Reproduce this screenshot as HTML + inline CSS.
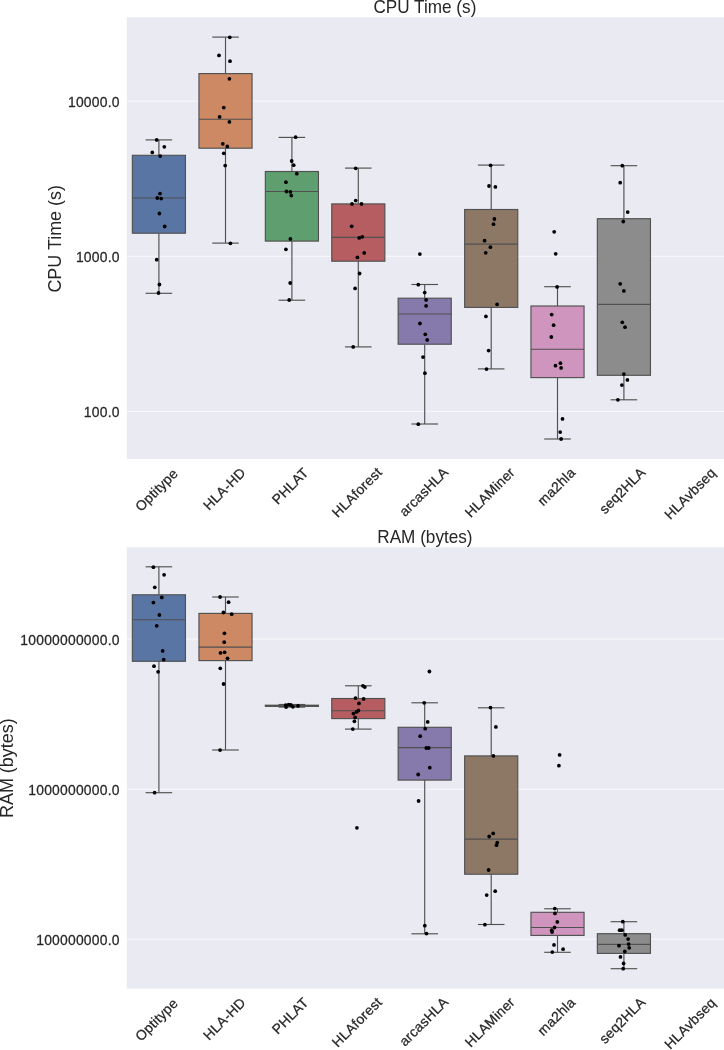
<!DOCTYPE html>
<html lang="en">
<head>
<meta charset="utf-8">
<title>CPU Time and RAM boxplots</title>
<style>
html,body{margin:0;padding:0;background:#fff;}
body{width:724px;height:1050px;overflow:hidden;}
svg{display:block;}
text{font-family:"Liberation Sans",Arial,Helvetica,sans-serif;fill:#262626;}
.tk{font-size:13.9px;letter-spacing:.22px;stroke:#262626;stroke-width:.25px;}
.lb{font-size:17.16px;}
.yl{font-size:17.95px;}
.g line{stroke:#fff;stroke-width:1;stroke-opacity:.72;}
.b line,.b rect{stroke:#515151;stroke-width:1.15;}
.d ellipse{fill:#000;}
</style>
</head>
<body>
<svg width="724" height="1050" viewBox="0 0 724 1050">
<rect x="0" y="0" width="724" height="1050" fill="#fff"/>
<rect x="126.8" y="17.25" width="599.2" height="441.75" fill="#eaeaf2"/>
<g class="g">
<line x1="126.8" y1="101.2" x2="726" y2="101.2"/>
<line x1="126.8" y1="256.3" x2="726" y2="256.3"/>
<line x1="126.8" y1="411.4" x2="726" y2="411.4"/>
</g>
<g class="b">
<line x1="158.9" y1="139.9" x2="158.9" y2="155.3"/><line x1="158.9" y1="233.2" x2="158.9" y2="293.3"/><line x1="145.6" y1="139.9" x2="172.2" y2="139.9"/><line x1="145.6" y1="293.3" x2="172.2" y2="293.3"/><rect x="132.35" y="155.3" width="53.1" height="77.9" fill="#5875a4"/><line x1="132.35" y1="198.0" x2="185.45" y2="198.0"/>
<line x1="225.5" y1="37.1" x2="225.5" y2="73.6"/><line x1="225.5" y1="148.2" x2="225.5" y2="243.1"/><line x1="212.2" y1="37.1" x2="238.8" y2="37.1"/><line x1="212.2" y1="243.1" x2="238.8" y2="243.1"/><rect x="198.95" y="73.6" width="53.1" height="74.6" fill="#cc8963"/><line x1="198.95" y1="119.2" x2="252.05" y2="119.2"/>
<line x1="291.9" y1="137.4" x2="291.9" y2="171.5"/><line x1="291.9" y1="241.1" x2="291.9" y2="300.2"/><line x1="278.6" y1="137.4" x2="305.2" y2="137.4"/><line x1="278.6" y1="300.2" x2="305.2" y2="300.2"/><rect x="265.35" y="171.5" width="53.1" height="69.6" fill="#5f9e6e"/><line x1="265.35" y1="191.5" x2="318.45" y2="191.5"/>
<line x1="358.3" y1="168.1" x2="358.3" y2="203.9"/><line x1="358.3" y1="261.2" x2="358.3" y2="346.9"/><line x1="345.0" y1="168.1" x2="371.6" y2="168.1"/><line x1="345.0" y1="346.9" x2="371.6" y2="346.9"/><rect x="331.75" y="203.9" width="53.1" height="57.3" fill="#b55d60"/><line x1="331.75" y1="237.3" x2="384.85" y2="237.3"/>
<line x1="424.7" y1="284.5" x2="424.7" y2="298.2"/><line x1="424.7" y1="344.2" x2="424.7" y2="424.0"/><line x1="411.4" y1="284.5" x2="438.0" y2="284.5"/><line x1="411.4" y1="424.0" x2="438.0" y2="424.0"/><rect x="398.15" y="298.2" width="53.1" height="46.0" fill="#857aab"/><line x1="398.15" y1="314.0" x2="451.25" y2="314.0"/>
<line x1="491.2" y1="165.1" x2="491.2" y2="209.5"/><line x1="491.2" y1="307.4" x2="491.2" y2="368.9"/><line x1="477.9" y1="165.1" x2="504.5" y2="165.1"/><line x1="477.9" y1="368.9" x2="504.5" y2="368.9"/><rect x="464.65" y="209.5" width="53.1" height="97.9" fill="#8d7866"/><line x1="464.65" y1="244.1" x2="517.75" y2="244.1"/>
<line x1="557.5" y1="286.7" x2="557.5" y2="306.0"/><line x1="557.5" y1="377.6" x2="557.5" y2="439.0"/><line x1="544.2" y1="286.7" x2="570.8" y2="286.7"/><line x1="544.2" y1="439.0" x2="570.8" y2="439.0"/><rect x="530.95" y="306.0" width="53.1" height="71.6" fill="#d095bf"/><line x1="530.95" y1="349.2" x2="584.05" y2="349.2"/>
<line x1="623.9" y1="165.7" x2="623.9" y2="218.7"/><line x1="623.9" y1="375.3" x2="623.9" y2="399.8"/><line x1="610.6" y1="165.7" x2="637.2" y2="165.7"/><line x1="610.6" y1="399.8" x2="637.2" y2="399.8"/><rect x="597.35" y="218.7" width="53.1" height="156.6" fill="#8c8c8c"/><line x1="597.35" y1="304.4" x2="650.45" y2="304.4"/>
</g>
<g class="d">
<ellipse cx="156.7" cy="139.9" rx="1.88" ry="1.88"/><ellipse cx="164.3" cy="146.8" rx="1.88" ry="1.88"/><ellipse cx="152.3" cy="152.4" rx="1.88" ry="1.88"/><ellipse cx="160.2" cy="156.1" rx="1.88" ry="1.88"/><ellipse cx="160" cy="193.6" rx="1.88" ry="1.88"/><ellipse cx="157.3" cy="198" rx="1.88" ry="1.88"/><ellipse cx="161.2" cy="198.6" rx="1.88" ry="1.88"/><ellipse cx="159.4" cy="213.5" rx="1.88" ry="1.88"/><ellipse cx="164.7" cy="226.5" rx="1.88" ry="1.88"/><ellipse cx="156.7" cy="259.7" rx="1.88" ry="1.88"/><ellipse cx="159.4" cy="284.5" rx="1.88" ry="1.88"/><ellipse cx="158.5" cy="293.0" rx="1.88" ry="1.88"/><ellipse cx="229.8" cy="37.3" rx="1.88" ry="1.88"/><ellipse cx="219.0" cy="55.4" rx="1.88" ry="1.88"/><ellipse cx="230" cy="61.2" rx="1.88" ry="1.88"/><ellipse cx="229.4" cy="78.8" rx="1.88" ry="1.88"/><ellipse cx="223.8" cy="107.6" rx="1.88" ry="1.88"/><ellipse cx="219.6" cy="116.9" rx="1.88" ry="1.88"/><ellipse cx="229.4" cy="121.9" rx="1.88" ry="1.88"/><ellipse cx="222.8" cy="143.8" rx="1.88" ry="1.88"/><ellipse cx="227.3" cy="146.5" rx="1.88" ry="1.88"/><ellipse cx="223.8" cy="153.3" rx="1.88" ry="1.88"/><ellipse cx="225.2" cy="165.6" rx="1.88" ry="1.88"/><ellipse cx="230.4" cy="243.3" rx="1.88" ry="1.88"/><ellipse cx="295.6" cy="137.2" rx="1.88" ry="1.88"/><ellipse cx="291.7" cy="161.0" rx="1.88" ry="1.88"/><ellipse cx="293.7" cy="165.2" rx="1.88" ry="1.88"/><ellipse cx="296.8" cy="173.7" rx="1.88" ry="1.88"/><ellipse cx="285.9" cy="182.2" rx="1.88" ry="1.88"/><ellipse cx="286.5" cy="191.5" rx="1.88" ry="1.88"/><ellipse cx="290.4" cy="191.9" rx="1.88" ry="1.88"/><ellipse cx="291.3" cy="195.6" rx="1.88" ry="1.88"/><ellipse cx="290.4" cy="238.9" rx="1.88" ry="1.88"/><ellipse cx="285.9" cy="249.3" rx="1.88" ry="1.88"/><ellipse cx="290.2" cy="283.0" rx="1.88" ry="1.88"/><ellipse cx="289.2" cy="300.0" rx="1.88" ry="1.88"/><ellipse cx="355.7" cy="168.3" rx="1.88" ry="1.88"/><ellipse cx="355.7" cy="200.6" rx="1.88" ry="1.88"/><ellipse cx="352" cy="203.9" rx="1.88" ry="1.88"/><ellipse cx="361.5" cy="203.9" rx="1.88" ry="1.88"/><ellipse cx="351.7" cy="226.3" rx="1.88" ry="1.88"/><ellipse cx="359.2" cy="237.9" rx="1.88" ry="1.88"/><ellipse cx="362.3" cy="236.8" rx="1.88" ry="1.88"/><ellipse cx="364.2" cy="252.9" rx="1.88" ry="1.88"/><ellipse cx="357.4" cy="257.4" rx="1.88" ry="1.88"/><ellipse cx="359.6" cy="273.5" rx="1.88" ry="1.88"/><ellipse cx="355.1" cy="288.4" rx="1.88" ry="1.88"/><ellipse cx="353.2" cy="346.9" rx="1.88" ry="1.88"/><ellipse cx="419.9" cy="254.1" rx="1.88" ry="1.88"/><ellipse cx="418.3" cy="284.7" rx="1.88" ry="1.88"/><ellipse cx="424.7" cy="292.6" rx="1.88" ry="1.88"/><ellipse cx="426.1" cy="299.9" rx="1.88" ry="1.88"/><ellipse cx="426.1" cy="305.9" rx="1.88" ry="1.88"/><ellipse cx="419.9" cy="323.5" rx="1.88" ry="1.88"/><ellipse cx="425.3" cy="334.3" rx="1.88" ry="1.88"/><ellipse cx="427.2" cy="339.9" rx="1.88" ry="1.88"/><ellipse cx="423.0" cy="357.1" rx="1.88" ry="1.88"/><ellipse cx="424.9" cy="373.2" rx="1.88" ry="1.88"/><ellipse cx="418.3" cy="424.2" rx="1.88" ry="1.88"/><ellipse cx="490.6" cy="165.3" rx="1.88" ry="1.88"/><ellipse cx="489.0" cy="186.0" rx="1.88" ry="1.88"/><ellipse cx="495.4" cy="186.9" rx="1.88" ry="1.88"/><ellipse cx="494.4" cy="219.0" rx="1.88" ry="1.88"/><ellipse cx="493.5" cy="224.2" rx="1.88" ry="1.88"/><ellipse cx="484.6" cy="240.7" rx="1.88" ry="1.88"/><ellipse cx="490.4" cy="247.2" rx="1.88" ry="1.88"/><ellipse cx="485.7" cy="252.8" rx="1.88" ry="1.88"/><ellipse cx="497.1" cy="304.3" rx="1.88" ry="1.88"/><ellipse cx="485.9" cy="316.4" rx="1.88" ry="1.88"/><ellipse cx="488.6" cy="350.6" rx="1.88" ry="1.88"/><ellipse cx="486.5" cy="369.1" rx="1.88" ry="1.88"/><ellipse cx="554.2" cy="231.8" rx="1.88" ry="1.88"/><ellipse cx="555.7" cy="253.8" rx="1.88" ry="1.88"/><ellipse cx="557.1" cy="286.9" rx="1.88" ry="1.88"/><ellipse cx="551.7" cy="314.6" rx="1.88" ry="1.88"/><ellipse cx="553.6" cy="325.2" rx="1.88" ry="1.88"/><ellipse cx="551.3" cy="337.0" rx="1.88" ry="1.88"/><ellipse cx="560.4" cy="363.2" rx="1.88" ry="1.88"/><ellipse cx="555.5" cy="365.7" rx="1.88" ry="1.88"/><ellipse cx="561.1" cy="367.9" rx="1.88" ry="1.88"/><ellipse cx="562.5" cy="418.9" rx="1.88" ry="1.88"/><ellipse cx="560.2" cy="432.1" rx="1.88" ry="1.88"/><ellipse cx="561.1" cy="439.0" rx="1.88" ry="1.88"/><ellipse cx="622.3" cy="165.7" rx="1.88" ry="1.88"/><ellipse cx="620.2" cy="182.7" rx="1.88" ry="1.88"/><ellipse cx="627.7" cy="212.1" rx="1.88" ry="1.88"/><ellipse cx="623.3" cy="221.5" rx="1.88" ry="1.88"/><ellipse cx="620.2" cy="283.8" rx="1.88" ry="1.88"/><ellipse cx="623.9" cy="290.9" rx="1.88" ry="1.88"/><ellipse cx="622.3" cy="322.3" rx="1.88" ry="1.88"/><ellipse cx="625.0" cy="327.2" rx="1.88" ry="1.88"/><ellipse cx="623.9" cy="374.1" rx="1.88" ry="1.88"/><ellipse cx="627.4" cy="379.9" rx="1.88" ry="1.88"/><ellipse cx="621.9" cy="385.1" rx="1.88" ry="1.88"/><ellipse cx="617.9" cy="399.8" rx="1.88" ry="1.88"/>
</g>
<text class="tk" transform="translate(119.7,106.8) scale(1,1.08)" text-anchor="end">10000.0</text>
<text class="tk" transform="translate(119.7,261.9) scale(1,1.08)" text-anchor="end">1000.0</text>
<text class="tk" transform="translate(119.7,417.0) scale(1,1.08)" text-anchor="end">100.0</text>
<text class="lb" transform="translate(424.9,12.75) scale(1,1.04)" text-anchor="middle">CPU Time (s)</text>
<text class="yl" transform="translate(60.9,238.82) rotate(-90) scale(1,.985)" text-anchor="middle">CPU Time (s)</text>
<text class="tk" transform="translate(156.4,489.8) rotate(-45)" text-anchor="middle" y="5">Optitype</text>
<text class="tk" transform="translate(224.2,488.8) rotate(-45)" text-anchor="middle" y="5">HLA-HD</text>
<text class="tk" transform="translate(290.0,485.8) rotate(-45)" text-anchor="middle" y="5">PHLAT</text>
<text class="tk" transform="translate(356.8,492.2) rotate(-45)" text-anchor="middle" y="5">HLAforest</text>
<text class="tk" transform="translate(423.6,491.6) rotate(-45)" text-anchor="middle" y="5">arcasHLA</text>
<text class="tk" transform="translate(489.7,492.2) rotate(-45)" text-anchor="middle" y="5">HLAMiner</text>
<text class="tk" transform="translate(556.2,486.5) rotate(-45)" text-anchor="middle" y="5" dx="0 -1.1">rna2hla</text>
<text class="tk" transform="translate(622.1,490.4) rotate(-45)" text-anchor="middle" y="5">seq2HLA</text>
<text class="tk" transform="translate(690.0,493.4) rotate(-45)" text-anchor="middle" y="5">HLAvbseq</text>
<rect x="126.8" y="547.25" width="599.2" height="441.35" fill="#eaeaf2"/>
<g class="g">
<line x1="126.8" y1="639.1" x2="726" y2="639.1"/>
<line x1="126.8" y1="789.3" x2="726" y2="789.3"/>
<line x1="126.8" y1="939.3" x2="726" y2="939.3"/>
</g>
<g class="b">
<line x1="158.9" y1="566.8" x2="158.9" y2="594.8"/><line x1="158.9" y1="661.3" x2="158.9" y2="792.7"/><line x1="145.6" y1="566.8" x2="172.2" y2="566.8"/><line x1="145.6" y1="792.7" x2="172.2" y2="792.7"/><rect x="132.35" y="594.8" width="53.1" height="66.5" fill="#5875a4"/><line x1="132.35" y1="619.7" x2="185.45" y2="619.7"/>
<line x1="225.5" y1="597.0" x2="225.5" y2="613.4"/><line x1="225.5" y1="660.6" x2="225.5" y2="750.0"/><line x1="212.2" y1="597.0" x2="238.8" y2="597.0"/><line x1="212.2" y1="750.0" x2="238.8" y2="750.0"/><rect x="198.95" y="613.4" width="53.1" height="47.2" fill="#cc8963"/><line x1="198.95" y1="647.1" x2="252.05" y2="647.1"/>
<line x1="291.9" y1="704.5" x2="291.9" y2="705.2"/><line x1="291.9" y1="706.4" x2="291.9" y2="707.1"/><line x1="278.6" y1="704.5" x2="305.2" y2="704.5"/><line x1="278.6" y1="707.1" x2="305.2" y2="707.1"/><rect x="265.35" y="705.2" width="53.1" height="1.2" fill="#5f9e6e"/><line x1="265.35" y1="705.8" x2="318.45" y2="705.8"/>
<line x1="358.3" y1="685.8" x2="358.3" y2="698.5"/><line x1="358.3" y1="718.6" x2="358.3" y2="729.1"/><line x1="345.0" y1="685.8" x2="371.6" y2="685.8"/><line x1="345.0" y1="729.1" x2="371.6" y2="729.1"/><rect x="331.75" y="698.5" width="53.1" height="20.1" fill="#b55d60"/><line x1="331.75" y1="710.7" x2="384.85" y2="710.7"/>
<line x1="424.7" y1="702.8" x2="424.7" y2="727.3"/><line x1="424.7" y1="780.1" x2="424.7" y2="933.8"/><line x1="411.4" y1="702.8" x2="438.0" y2="702.8"/><line x1="411.4" y1="933.8" x2="438.0" y2="933.8"/><rect x="398.15" y="727.3" width="53.1" height="52.8" fill="#857aab"/><line x1="398.15" y1="747.6" x2="451.25" y2="747.6"/>
<line x1="491.2" y1="707.8" x2="491.2" y2="755.9"/><line x1="491.2" y1="874.2" x2="491.2" y2="924.5"/><line x1="477.9" y1="707.8" x2="504.5" y2="707.8"/><line x1="477.9" y1="924.5" x2="504.5" y2="924.5"/><rect x="464.65" y="755.9" width="53.1" height="118.3" fill="#8d7866"/><line x1="464.65" y1="839.1" x2="517.75" y2="839.1"/>
<line x1="557.5" y1="908.8" x2="557.5" y2="912.3"/><line x1="557.5" y1="935.4" x2="557.5" y2="952.3"/><line x1="544.2" y1="908.8" x2="570.8" y2="908.8"/><line x1="544.2" y1="952.3" x2="570.8" y2="952.3"/><rect x="530.95" y="912.3" width="53.1" height="23.1" fill="#d095bf"/><line x1="530.95" y1="927.5" x2="584.05" y2="927.5"/>
<line x1="623.9" y1="921.7" x2="623.9" y2="933.7"/><line x1="623.9" y1="953.4" x2="623.9" y2="968.7"/><line x1="610.6" y1="921.7" x2="637.2" y2="921.7"/><line x1="610.6" y1="968.7" x2="637.2" y2="968.7"/><rect x="597.35" y="933.7" width="53.1" height="19.7" fill="#8c8c8c"/><line x1="597.35" y1="944.3" x2="650.45" y2="944.3"/>
</g>
<g class="d">
<ellipse cx="153.4" cy="567.2" rx="1.88" ry="1.88"/><ellipse cx="164.1" cy="574.8" rx="1.88" ry="1.88"/><ellipse cx="154.8" cy="587.3" rx="1.88" ry="1.88"/><ellipse cx="161.8" cy="597.4" rx="1.88" ry="1.88"/><ellipse cx="153.4" cy="602.6" rx="1.88" ry="1.88"/><ellipse cx="159.4" cy="615.0" rx="1.88" ry="1.88"/><ellipse cx="156.7" cy="625.8" rx="1.88" ry="1.88"/><ellipse cx="162.7" cy="650.9" rx="1.88" ry="1.88"/><ellipse cx="163.7" cy="659.6" rx="1.88" ry="1.88"/><ellipse cx="154.0" cy="666.2" rx="1.88" ry="1.88"/><ellipse cx="158.1" cy="671.8" rx="1.88" ry="1.88"/><ellipse cx="154.6" cy="792.7" rx="1.88" ry="1.88"/><ellipse cx="220.1" cy="597.0" rx="1.88" ry="1.88"/><ellipse cx="228.6" cy="602.2" rx="1.88" ry="1.88"/><ellipse cx="223.4" cy="612.5" rx="1.88" ry="1.88"/><ellipse cx="231.7" cy="614.2" rx="1.88" ry="1.88"/><ellipse cx="224.4" cy="633.3" rx="1.88" ry="1.88"/><ellipse cx="224.2" cy="642.2" rx="1.88" ry="1.88"/><ellipse cx="220.5" cy="652.9" rx="1.88" ry="1.88"/><ellipse cx="224.6" cy="652.3" rx="1.88" ry="1.88"/><ellipse cx="227.5" cy="658.3" rx="1.88" ry="1.88"/><ellipse cx="220.3" cy="668.3" rx="1.88" ry="1.88"/><ellipse cx="223.6" cy="684.0" rx="1.88" ry="1.88"/><ellipse cx="220.1" cy="750.1" rx="1.88" ry="1.88"/><ellipse cx="285.8" cy="705.2" rx="1.88" ry="1.88"/><ellipse cx="286.1" cy="707.0" rx="1.88" ry="1.88"/><ellipse cx="288.7" cy="704.6" rx="1.88" ry="1.88"/><ellipse cx="290.9" cy="705.0" rx="1.88" ry="1.88"/><ellipse cx="292.9" cy="706.8" rx="1.88" ry="1.88"/><ellipse cx="298.0" cy="705.9" rx="1.88" ry="1.88"/><ellipse cx="362.9" cy="685.8" rx="1.88" ry="1.88"/><ellipse cx="364.8" cy="687.1" rx="1.88" ry="1.88"/><ellipse cx="355.5" cy="698.1" rx="1.88" ry="1.88"/><ellipse cx="363.6" cy="698.9" rx="1.88" ry="1.88"/><ellipse cx="359.0" cy="703.4" rx="1.88" ry="1.88"/><ellipse cx="358.4" cy="710.5" rx="1.88" ry="1.88"/><ellipse cx="356.5" cy="711.9" rx="1.88" ry="1.88"/><ellipse cx="353.4" cy="713.6" rx="1.88" ry="1.88"/><ellipse cx="355.1" cy="717.5" rx="1.88" ry="1.88"/><ellipse cx="354.4" cy="721.3" rx="1.88" ry="1.88"/><ellipse cx="352.8" cy="729.1" rx="1.88" ry="1.88"/><ellipse cx="356.9" cy="827.8" rx="1.88" ry="1.88"/><ellipse cx="429.4" cy="671.5" rx="1.88" ry="1.88"/><ellipse cx="424.2" cy="702.8" rx="1.88" ry="1.88"/><ellipse cx="427.7" cy="721.9" rx="1.88" ry="1.88"/><ellipse cx="425.2" cy="728.7" rx="1.88" ry="1.88"/><ellipse cx="420.2" cy="736.2" rx="1.88" ry="1.88"/><ellipse cx="426.3" cy="748.0" rx="1.88" ry="1.88"/><ellipse cx="428.7" cy="748.0" rx="1.88" ry="1.88"/><ellipse cx="429.8" cy="767.7" rx="1.88" ry="1.88"/><ellipse cx="418.2" cy="774.5" rx="1.88" ry="1.88"/><ellipse cx="418.6" cy="801.0" rx="1.88" ry="1.88"/><ellipse cx="424.8" cy="925.7" rx="1.88" ry="1.88"/><ellipse cx="426.5" cy="933.6" rx="1.88" ry="1.88"/><ellipse cx="490.5" cy="707.6" rx="1.88" ry="1.88"/><ellipse cx="495.9" cy="726.9" rx="1.88" ry="1.88"/><ellipse cx="493.4" cy="755.9" rx="1.88" ry="1.88"/><ellipse cx="493.2" cy="833.4" rx="1.88" ry="1.88"/><ellipse cx="489.2" cy="836.5" rx="1.88" ry="1.88"/><ellipse cx="497.3" cy="842.6" rx="1.88" ry="1.88"/><ellipse cx="496.5" cy="845.2" rx="1.88" ry="1.88"/><ellipse cx="488.6" cy="870.0" rx="1.88" ry="1.88"/><ellipse cx="495.2" cy="891.2" rx="1.88" ry="1.88"/><ellipse cx="486.7" cy="895.1" rx="1.88" ry="1.88"/><ellipse cx="484.9" cy="924.7" rx="1.88" ry="1.88"/><ellipse cx="559.6" cy="754.9" rx="1.88" ry="1.88"/><ellipse cx="558.9" cy="765.7" rx="1.88" ry="1.88"/><ellipse cx="554.8" cy="908.6" rx="1.88" ry="1.88"/><ellipse cx="555.0" cy="913.4" rx="1.88" ry="1.88"/><ellipse cx="557.3" cy="921.9" rx="1.88" ry="1.88"/><ellipse cx="554.6" cy="927.5" rx="1.88" ry="1.88"/><ellipse cx="551.7" cy="930.2" rx="1.88" ry="1.88"/><ellipse cx="552.1" cy="932.0" rx="1.88" ry="1.88"/><ellipse cx="554.0" cy="944.9" rx="1.88" ry="1.88"/><ellipse cx="563.1" cy="949.2" rx="1.88" ry="1.88"/><ellipse cx="552.3" cy="952.1" rx="1.88" ry="1.88"/><ellipse cx="622.8" cy="921.7" rx="1.88" ry="1.88"/><ellipse cx="619.6" cy="930.2" rx="1.88" ry="1.88"/><ellipse cx="621.9" cy="930.2" rx="1.88" ry="1.88"/><ellipse cx="625.2" cy="934.9" rx="1.88" ry="1.88"/><ellipse cx="628.1" cy="939.1" rx="1.88" ry="1.88"/><ellipse cx="628.6" cy="944.1" rx="1.88" ry="1.88"/><ellipse cx="619.0" cy="945.7" rx="1.88" ry="1.88"/><ellipse cx="629.2" cy="947.8" rx="1.88" ry="1.88"/><ellipse cx="624.8" cy="951.5" rx="1.88" ry="1.88"/><ellipse cx="620.5" cy="956.9" rx="1.88" ry="1.88"/><ellipse cx="623.6" cy="963.5" rx="1.88" ry="1.88"/><ellipse cx="623.2" cy="968.7" rx="1.88" ry="1.88"/>
</g>
<text class="tk" transform="translate(119.7,644.7) scale(1,1.08)" text-anchor="end">10000000000.0</text>
<text class="tk" transform="translate(119.7,794.9) scale(1,1.08)" text-anchor="end">1000000000.0</text>
<text class="tk" transform="translate(119.7,944.9) scale(1,1.08)" text-anchor="end">100000000.0</text>
<text class="lb" transform="translate(424.9,542.75) scale(1,1.04)" text-anchor="middle">RAM (bytes)</text>
<text class="yl" transform="translate(13.35,768.22) rotate(-90) scale(1,.985)" text-anchor="middle">RAM (bytes)</text>
<text class="tk" transform="translate(156.4,1019.6) rotate(-45)" text-anchor="middle" y="5">Optitype</text>
<text class="tk" transform="translate(224.2,1018.6) rotate(-45)" text-anchor="middle" y="5">HLA-HD</text>
<text class="tk" transform="translate(290.0,1015.6) rotate(-45)" text-anchor="middle" y="5">PHLAT</text>
<text class="tk" transform="translate(356.8,1022.0) rotate(-45)" text-anchor="middle" y="5">HLAforest</text>
<text class="tk" transform="translate(423.6,1021.4) rotate(-45)" text-anchor="middle" y="5">arcasHLA</text>
<text class="tk" transform="translate(489.7,1022.0) rotate(-45)" text-anchor="middle" y="5">HLAMiner</text>
<text class="tk" transform="translate(556.2,1016.3) rotate(-45)" text-anchor="middle" y="5" dx="0 -1.1">rna2hla</text>
<text class="tk" transform="translate(622.1,1020.2) rotate(-45)" text-anchor="middle" y="5">seq2HLA</text>
<text class="tk" transform="translate(690.0,1023.2) rotate(-45)" text-anchor="middle" y="5">HLAvbseq</text>
</svg>
</body>
</html>
